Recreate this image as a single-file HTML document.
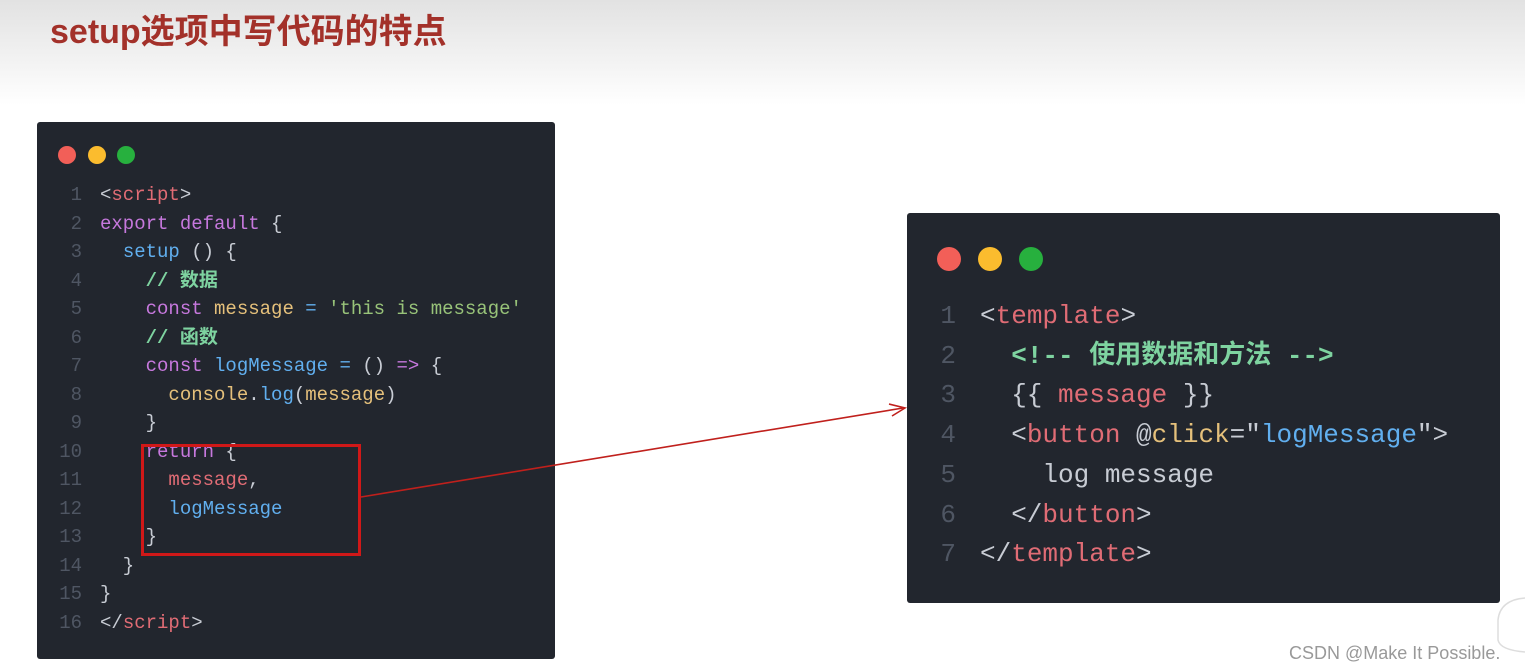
<!DOCTYPE html>
<html><head><meta charset="utf-8"><style>
*{margin:0;padding:0;box-sizing:border-box}
body{width:1525px;height:670px;overflow:hidden;position:relative;background:#fff;font-family:"Liberation Sans","Noto Sans CJK SC",sans-serif}
.hdr{position:absolute;left:0;top:0;width:1525px;height:105px;background:linear-gradient(#e2e2e2,#f3f3f3 60%,#fff)}
.title{position:absolute;left:50px;top:4px;font-size:34px;font-weight:bold;color:#a3312a;white-space:nowrap}
.panel{position:absolute;background:#22262e;border-radius:3px}
.dot{position:absolute;border-radius:50%}
.ln{position:absolute;white-space:pre;font-family:"Liberation Mono","Noto Sans CJK SC",monospace;color:#c8ccd4}
.s19 .ln{line-height:24px;height:24px}
.s26 .ln{line-height:32px;height:32px}
.n{position:absolute;color:#4f5663;text-align:right}
.t{color:#e06c75}.k{color:#c678dd}.b{color:#61afef}.c{color:#7ed3a0;font-weight:bold}.s{color:#98c379}.o{color:#e5c07b}.g{color:#c8ccd4}
</style></head><body>
<div class="hdr"></div>
<div class="title">setup选项中写代码的特点</div>

<div class="panel" style="left:37px;top:122px;width:518px;height:537px"></div>
<div class="dot" style="left:58px;top:146px;width:18px;height:18px;background:#f25f58"></div>
<div class="dot" style="left:88px;top:146px;width:18px;height:18px;background:#fbbc2e"></div>
<div class="dot" style="left:117px;top:146px;width:18px;height:18px;background:#27b03e"></div>

<div class="s19" style="font-size:19px">
<div class="ln" style="top:183px;left:100px"><span class="n" style="left:-48px;width:30px">1</span><span class="g">&lt;</span><span class="t">script</span><span class="g">&gt;</span></div>
<div class="ln" style="top:211.5px;left:100px"><span class="n" style="left:-48px;width:30px">2</span><span class="k">export default</span> {</div>
<div class="ln" style="top:240px;left:100px"><span class="n" style="left:-48px;width:30px">3</span>  <span class="b">setup</span> () {</div>
<div class="ln" style="top:268.5px;left:100px"><span class="n" style="left:-48px;width:30px">4</span>    <span class="c">// 数据</span></div>
<div class="ln" style="top:297px;left:100px"><span class="n" style="left:-48px;width:30px">5</span>    <span class="k">const</span> <span class="o">message</span> <span class="b">=</span> <span class="s">'this is message'</span></div>
<div class="ln" style="top:325.5px;left:100px"><span class="n" style="left:-48px;width:30px">6</span>    <span class="c">// 函数</span></div>
<div class="ln" style="top:354px;left:100px"><span class="n" style="left:-48px;width:30px">7</span>    <span class="k">const</span> <span class="b">logMessage</span> <span class="b">=</span> () <span class="k">=&gt;</span> {</div>
<div class="ln" style="top:382.5px;left:100px"><span class="n" style="left:-48px;width:30px">8</span>      <span class="o">console</span>.<span class="b">log</span>(<span class="o">message</span>)</div>
<div class="ln" style="top:411px;left:100px"><span class="n" style="left:-48px;width:30px">9</span>    }</div>
<div class="ln" style="top:439.5px;left:100px"><span class="n" style="left:-48px;width:30px">10</span>    <span class="k">return</span> {</div>
<div class="ln" style="top:468px;left:100px"><span class="n" style="left:-48px;width:30px">11</span>      <span class="t">message</span>,</div>
<div class="ln" style="top:496.5px;left:100px"><span class="n" style="left:-48px;width:30px">12</span>      <span class="b">logMessage</span></div>
<div class="ln" style="top:525px;left:100px"><span class="n" style="left:-48px;width:30px">13</span>    }</div>
<div class="ln" style="top:553.5px;left:100px"><span class="n" style="left:-48px;width:30px">14</span>  }</div>
<div class="ln" style="top:582px;left:100px"><span class="n" style="left:-48px;width:30px">15</span>}</div>
<div class="ln" style="top:610.5px;left:100px"><span class="n" style="left:-48px;width:30px">16</span>&lt;/<span class="t">script</span>&gt;</div>
</div>

<div style="position:absolute;left:141px;top:444px;width:220px;height:112px;border:3px solid #d01818"></div>

<div class="panel" style="left:907px;top:213px;width:593px;height:390px"></div>
<div class="dot" style="left:937px;top:247px;width:24px;height:24px;background:#f25f58"></div>
<div class="dot" style="left:978px;top:247px;width:24px;height:24px;background:#fbbc2e"></div>
<div class="dot" style="left:1019px;top:247px;width:24px;height:24px;background:#27b03e"></div>

<div class="s26" style="font-size:26px">
<div class="ln" style="top:300px;left:980px"><span class="n" style="left:-44px;width:20px">1</span>&lt;<span class="t">template</span>&gt;</div>
<div class="ln" style="top:339.7px;left:980px"><span class="n" style="left:-44px;width:20px">2</span>  <span class="c">&lt;!-- 使用数据和方法 --&gt;</span></div>
<div class="ln" style="top:379.4px;left:980px"><span class="n" style="left:-44px;width:20px">3</span>  {{ <span class="t">message</span> }}</div>
<div class="ln" style="top:419.1px;left:980px"><span class="n" style="left:-44px;width:20px">4</span>  &lt;<span class="t">button</span> @<span class="o">click</span>="<span class="b">logMessage</span>"&gt;</div>
<div class="ln" style="top:458.8px;left:980px"><span class="n" style="left:-44px;width:20px">5</span>    log message</div>
<div class="ln" style="top:498.5px;left:980px"><span class="n" style="left:-44px;width:20px">6</span>  &lt;/<span class="t">button</span>&gt;</div>
<div class="ln" style="top:538.2px;left:980px"><span class="n" style="left:-44px;width:20px">7</span>&lt;/<span class="t">template</span>&gt;</div>
</div>

<svg style="position:absolute;left:0;top:0" width="1525" height="670">
<line x1="361" y1="497" x2="903" y2="408" stroke="#c0201c" stroke-width="1.6"/>
<polyline points="889,404 905,408 892,416" fill="none" stroke="#c0201c" stroke-width="1.6"/>
<path d="M1525 598 Q1500 600 1498 620 L1498 640 Q1500 650 1525 652" fill="#fff" stroke="#ddd" stroke-width="1.5"/>
</svg>
<div style="position:absolute;left:1289px;top:643px;font-size:18px;color:#999;white-space:nowrap">CSDN @Make It Possible.</div>
</body></html>
